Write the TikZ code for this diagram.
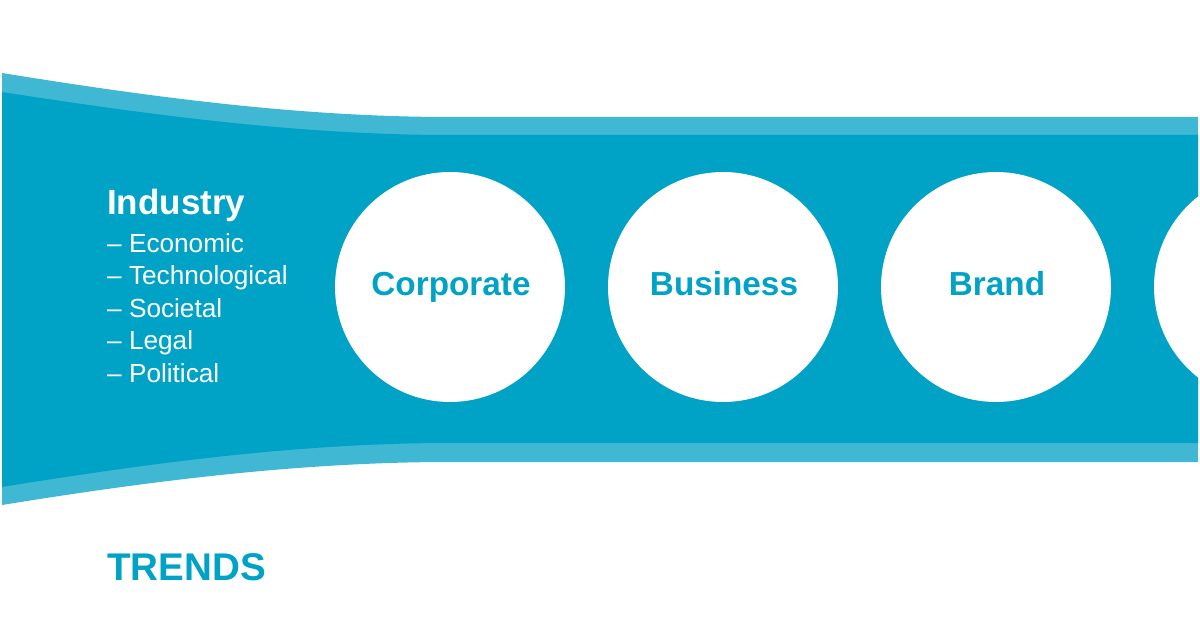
\documentclass[tikz,border=0pt]{standalone}
\usepackage{fontspec}
\setmainfont{Liberation Sans}
\definecolor{teal1}{RGB}{0,162,198}
\definecolor{teal2}{RGB}{64,184,212}
\tikzset{
  disc/.style={circle, fill=white, minimum size=230pt, inner sep=0pt},
  disclabel/.style={anchor=base, text=teal1, font=\bfseries\fontsize{33.3}{40}\selectfont, inner sep=0pt},
  itemtext/.style={anchor=base west, text=white, font=\fontsize{26.2}{31}\selectfont, inner sep=0pt},
}
\begin{document}
\begin{tikzpicture}[x=1pt,y=-1pt]
\useasboundingbox (0,0) rectangle (1200,620);
\clip (0,0) rectangle (1200,620);
\fill[white] (0,0) rectangle (1200,620);
% light outer band
\fill[teal2] (2,73) .. controls (150,97) and (300,117) .. (450,117) -- (1198,117)
  -- (1198,462) -- (450,462) .. controls (300,462) and (150,481) .. (2,505) -- cycle;
% dark inner band
\fill[teal1] (2,92) .. controls (150,115) and (300,135) .. (450,135) -- (1198,135)
  -- (1198,443) -- (450,443) .. controls (300,443) and (150,463) .. (2,487) -- cycle;
% circles
\node[disc] (c1) at (450,287) {};
\node[disc] (c2) at (723,287) {};
\node[disc] (c3) at (996,287) {};
\node[disc] (c4) at (1269,287) {};
\node[disclabel] (l1) at (451,296) {Corporate};
\node[disclabel] (l2) at (724,296) {Business};
\node[disclabel] (l3) at (997,296) {Brand};
% left text
\node[anchor=base west, text=white, font=\bfseries\fontsize{35}{42}\selectfont, inner sep=0pt] (ind) at (107,215) {Industry};
\node[itemtext] (i1) at (107,253) {– Economic};
\node[itemtext] (i2) at (107,285) {– Technological};
\node[itemtext] (i3) at (107,318) {– Societal};
\node[itemtext] (i4) at (107,350) {– Legal};
\node[itemtext] (i5) at (107,383) {– Political};
\node[anchor=base west, text=teal1, font=\bfseries\fontsize{38.6}{45}\selectfont, inner sep=0pt] (tr) at (107,580) {TRENDS};
\end{tikzpicture}
\end{document}
